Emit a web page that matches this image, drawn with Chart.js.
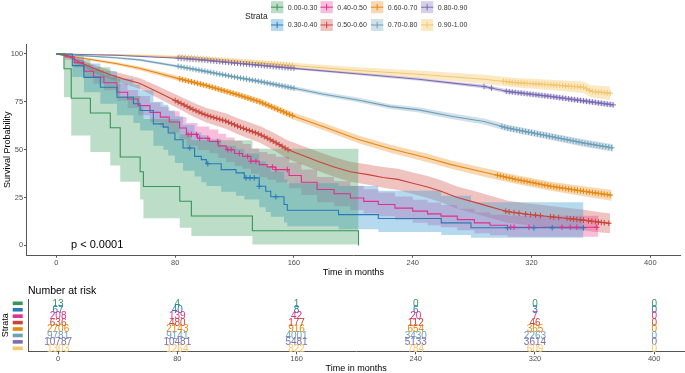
<!DOCTYPE html>
<html>
<head>
<meta charset="utf-8">
<script src="https://cdn.jsdelivr.net/npm/chart.js@4.4.1/dist/chart.umd.min.js"></script>
<style>
  html, body { margin: 0; padding: 0; background: #fff; overflow: hidden; }
  #wrap { position: relative; width: 685px; height: 373px; }
  #kmChart { position: absolute; left: 0; top: 0; }
  #riskChart { position: absolute; left: 0; top: 280px; }
</style>
</head>
<body>
<div id="wrap">
  <canvas id="kmChart" width="685" height="280"></canvas>
  <canvas id="riskChart" width="685" height="95"></canvas>
</div>
<script>
/* ---------- data ---------- */
const strata = ['0.00-0.30', '0.30-0.40', '0.40-0.50', '0.50-0.60', '0.60-0.70', '0.70-0.80', '0.80-0.90', '0.90-1.00'];
const xTicks = [0, 80, 160, 240, 320, 400];
const yTicks = [0, 25, 50, 75, 100];

// 0.00-0.30
const greenTime = [0, 5.1, 10, 22.9, 36.3, 43, 56.4, 58.6, 83.1, 90.9, 132, 203.5];
const greenSurv = [100, 92.3, 76.9, 69.2, 61.5, 46.2, 38.5, 30.8, 23.1, 15.4, 7.7, 0];
const greenLow  = [100, 77.4, 57.4, 48.8, 41.8, 33.2, 24, 14.2, 9.2, 4.9, 0.5, 0];
const greenHigh = [100, 100, 97, 93, 88, 78, 72, 66, 58, 55, 50.5, 50.5];
const greenCensor = [];

// 0.30-0.40
const blueTime = [0, 10.7, 18.5, 29.6, 40.8, 51.9, 56.4, 65.3, 72, 75.3, 79.8, 85.3, 93.1, 97.6, 101, 111, 121, 126.6, 136.6, 141, 144.4, 153.3, 155.5, 190, 216.8, 259.2, 279.2, 355];
const blueSurv = [100, 93.9, 87.8, 82.6, 77.4, 74, 70.5, 63.5, 61.8, 58.7, 55.2, 50.9, 46.5, 44.8, 42.7, 39.6, 37.9, 35.3, 30.9, 28.3, 25.4, 21.4, 18.4, 16.1, 14.1, 11.8, 9.2, 9.2];
const blueLow  = [100, 88, 80, 74, 68, 64, 60, 52, 50, 47, 43, 39, 36, 33, 31, 28, 26, 24, 20, 17.5, 15, 12, 10, 8.5, 7, 5.5, 4, 4];
const blueHigh = [100, 99, 95, 91, 87, 84, 81, 75, 73.5, 70.5, 67.5, 63, 59, 57.5, 55.5, 52, 50.5, 48, 44, 41.5, 38.5, 34.5, 32.5, 31, 28.5, 26, 22.6, 22.6];
const blueCensor = [89.8, 102, 127.7, 130.4, 133.3, 136.6, 147.8, 303.8, 321.6, 333.9, 355];

// 0.40-0.50
const pinkTime = [0, 6, 12, 18.5, 25, 32, 40.8, 48, 55, 63, 70, 76, 83, 87.6, 95, 103, 109, 114.3, 120, 125.4, 131, 136.6, 142, 147.8, 156.7, 165, 175.6, 187, 198, 207, 216.8, 228, 240, 250, 259, 270, 281.5, 292, 303.8, 365];
const pinkSurv = [100, 98.5, 95.5, 91, 88, 85, 80, 76.5, 73, 69.5, 67, 64.5, 61.3, 58, 56, 54.3, 52, 50, 48, 46.5, 44, 42.2, 41, 39.6, 36.5, 33, 29.2, 27, 24.8, 23, 21.4, 19.5, 17.9, 16.5, 15.3, 13.5, 11.8, 10.5, 9.5, 9.5];
const pinkLow  = [100, 97, 93, 87.8, 84.4, 81, 75.6, 71.8, 68, 64.3, 61.6, 58.9, 55.5, 52, 49.9, 48.1, 45.7, 43.6, 41.5, 40, 37.4, 35.6, 34.3, 32.9, 29.8, 26.3, 22.6, 20.5, 18.4, 16.7, 15.2, 13.4, 11.9, 10.6, 9.5, 7.9, 6.4, 5.3, 4.5, 4.5];
const pinkHigh = [100, 100, 98, 94.2, 91.6, 89, 84.4, 81.2, 78, 74.7, 72.4, 70.1, 67.1, 64, 62.1, 60.5, 58.3, 56.4, 54.5, 53, 50.6, 48.8, 47.7, 46.3, 43.2, 39.7, 35.8, 33.5, 31.2, 29.3, 27.6, 25.6, 23.9, 22.4, 21.1, 19.1, 17.2, 16, 15.5, 15.5];
const pinkCensor = [88.7, 90.9, 94.3, 96.5, 102, 108.7, 115.4, 117.7, 123.2, 128.8, 131, 134.4, 145.5, 147.8, 155.5, 306, 308.2, 318.3, 340.5, 346.1, 350.5, 363.9];

// 0.50-0.60
const redTime = [0, 8, 16, 25, 35, 45, 56, 70, 83, 92, 101, 114, 123, 137, 147, 156, 166, 176, 187, 198, 210, 220, 230, 240, 250, 259, 270, 282, 293, 304, 318, 333, 345, 355, 365, 373];
const redSurv = [100, 99, 95.5, 92.5, 89.5, 87, 84.7, 79.5, 74.5, 71, 68, 65, 62, 58, 54, 50, 47, 44, 41, 38.5, 37, 35.5, 34.5, 32.5, 30.5, 28.3, 25, 22.5, 20, 17.6, 16.2, 15, 14, 13.2, 12.2, 11.5];
const redLow  = [100, 98.2, 93.9, 90.5, 87.2, 84.4, 81.9, 76.4, 71.1, 67.4, 64.2, 61, 57.8, 53.6, 49.4, 45.2, 42.1, 39, 35.9, 33.3, 31.7, 30.1, 29, 26.9, 24.8, 22.5, 19.2, 16.7, 14.2, 11.8, 10.5, 9.4, 8.5, 7.8, 6.9, 6.3];
const redHigh = [100, 99.8, 97.1, 94.5, 91.8, 89.6, 87.5, 82.6, 77.9, 74.6, 71.8, 69, 66.2, 62.4, 58.6, 54.8, 51.9, 49, 46.1, 43.7, 42.3, 40.9, 40, 38.1, 36.2, 34.1, 30.8, 28.3, 25.8, 23.4, 21.9, 20.6, 19.5, 18.6, 17.5, 16.7];
const redCensor = [80, 82, 84, 86, 88, 90, 92, 94, 96, 98, 100, 102, 104, 106, 108, 110, 112, 114, 116, 118, 120, 122, 124, 126, 128, 130, 132, 134, 136, 138, 140, 142, 144, 146, 148, 150, 152, 154, 156,
    302.6, 304.9, 308.2, 311.6, 316, 319.3, 322.7, 326, 332.7, 335, 338.3, 343.9, 346.1, 348.3, 350.5, 352.8, 355, 358.4, 360.6, 363, 365.1, 367, 369, 372];

// 0.60-0.70
const orangeTime = [0, 20, 40, 56, 83, 101, 123, 137, 160, 180, 203, 225, 250, 266, 288, 310, 333, 355, 374];
const orangeSurv = [100, 97.5, 95, 92.5, 87, 83.5, 78.5, 75, 67.5, 62, 55.5, 50.5, 45.7, 42.2, 38.2, 34.4, 30.9, 28.3, 26.2];
const orangeLow  = [100, 96.9, 94.2, 91.5, 85.7, 82.1, 77, 73.3, 65.7, 60.1, 53.5, 48.4, 43.5, 40, 35.9, 32.1, 28.5, 25.7, 23.4];
const orangeHigh = [100, 98.1, 95.8, 93.5, 88.3, 84.9, 80, 76.7, 69.3, 63.9, 57.5, 52.6, 47.9, 44.4, 40.5, 36.7, 33.3, 30.9, 29];
const orangeCensor = [83, 85, 87, 89, 91, 93, 95, 97, 99, 101, 103, 105, 107, 109, 111, 113, 115, 117, 119, 121, 123, 125, 127, 129, 131, 133, 135, 137, 139, 141, 143, 145, 147, 149, 151, 153, 155, 157, 159,
    297, 299, 301, 303, 305, 307, 309, 311, 313, 315, 317, 319, 321, 323, 325, 327, 329, 331, 333, 335, 337, 339, 341, 343, 345, 347, 349, 351, 353, 355, 357, 359, 361, 363, 365, 367, 369, 371, 373];

// 0.70-0.80
const steelTime = [0, 20, 40, 56, 83, 100, 120, 137, 160, 180, 203, 225, 244, 266, 288, 304, 333, 355, 375];
const steelSurv = [100, 99, 98, 96.9, 93.4, 91, 88, 85.6, 82.1, 79, 76, 72.5, 70.8, 67.5, 64.7, 61.3, 56.9, 53.5, 50.9];
const steelLow  = [100, 98.7, 97.5, 96.3, 92.7, 90.2, 87.2, 84.7, 81.1, 77.9, 74.8, 71.2, 69.4, 66, 63.1, 59.6, 55.1, 51.6, 48.9];
const steelHigh = [100, 99.3, 98.5, 97.5, 94.1, 91.8, 88.8, 86.5, 83.1, 80.1, 77.2, 73.8, 72.2, 69, 66.3, 63, 58.7, 55.4, 52.9];
const steelCensor = [82, 84, 86, 88, 90, 92, 94, 96, 98, 100, 102, 104, 106, 108, 110, 112, 114, 116, 118, 120, 122, 124, 126, 128, 130, 132, 134, 136, 138, 140, 142, 144, 146, 148, 150, 152, 154, 156, 158, 160,
    300, 302, 304, 306, 308, 310, 312, 314, 316, 318, 320, 322, 324, 326, 328, 330, 332, 334, 336, 338, 340, 342, 344, 346, 348, 350, 352, 354, 356, 358, 360, 362, 364, 366, 368, 370, 372, 374];

// 0.80-0.90
const violetTime = [0, 40, 83, 100, 120, 160, 200, 244, 270, 288, 304, 333, 355, 375];
const violetSurv = [100, 99.3, 97.8, 96.8, 95.3, 92.5, 89.8, 86.8, 84.5, 83, 80.4, 77.8, 75.5, 73.4];
const violetLow  = [100, 99.1, 97.5, 96.4, 94.8, 91.9, 89.1, 86, 83.6, 82, 79.3, 76.6, 74.2, 72];
const violetHigh = [100, 99.5, 98.1, 97.2, 95.8, 93.1, 90.5, 87.6, 85.4, 84, 81.5, 79, 76.8, 74.8];
const violetCensor = [82, 84, 86, 88, 90, 92, 94, 96, 98, 100, 102, 104, 106, 108, 110, 112, 114, 116, 118, 120, 122, 124, 126, 128, 130, 132, 134, 136, 138, 140, 142, 144, 146, 148, 150, 152, 154, 156, 158, 160,
    288, 293, 303, 305, 307, 309, 311, 313, 315, 317, 319, 321, 323, 325, 327, 329, 331, 333, 335, 337, 339, 341, 343, 345, 347, 349, 351, 353, 355, 357, 359, 361, 363, 365, 367, 369, 371, 373, 375];

// 0.90-1.00
const yellowTime = [0, 40, 83, 120, 160, 200, 244, 288, 310, 333, 355, 360, 373];
const yellowSurv = [100, 99.6, 98.5, 96.3, 94, 91.5, 89.4, 86.8, 85, 83.9, 82.6, 80.5, 79.5];
const yellowLow  = [100, 99.2, 97.8, 95.2, 92.6, 89.8, 87.4, 84.5, 82.5, 81.2, 79.6, 77.3, 76];
const yellowHigh = [100, 100, 99.2, 97.4, 95.4, 93.2, 91.4, 89.1, 87.5, 86.6, 85.6, 83.7, 83];
const yellowCensor = [83, 85, 87, 89, 91, 93, 95, 97, 99, 101, 103, 105, 107, 109, 111, 113, 115, 117, 119, 121, 123, 125, 127, 129, 131, 133, 135, 137, 139, 141, 143, 145, 147, 149, 151, 153, 155, 157, 159,
    301, 303, 305, 307, 309, 311, 313, 315, 317, 319, 321, 323, 325, 327, 329, 331, 333, 335, 337, 339, 341, 343, 345, 347, 349, 351, 353, 355, 357, 359, 361, 363, 365, 367, 369, 371, 373];

// number at risk, one row per stratum, columns = riskTimes
const riskTimes = [0, 80, 160, 240, 320, 400];
const riskRows = [
    [13, 4, 1, 0, 0, 0],
    [67, 40, 8, 6, 3, 0],
    [208, 139, 42, 20, 7, 0],
    [636, 480, 177, 112, 46, 0],
    [2706, 2143, 916, 654, 365, 0],
    [9781, 9141, 4001, 3430, 2263, 0],
    [10787, 10481, 5481, 5133, 3614, 0],
    [1303, 1264, 822, 784, 609, 0]
];

/* ---------- styling ---------- */
const palette = ['#35955A', '#2879B8', '#E12F8C', '#C9443A', '#E8870F', '#6E9FB8', '#7B6CB4', '#F5C66A'];
const bandFill = [
    'rgba(58,154,91,0.34)',
    'rgba(70,160,215,0.40)',
    'rgba(231,41,138,0.30)',
    'rgba(201,68,58,0.32)',
    'rgba(232,135,15,0.32)',
    'rgba(110,159,184,0.32)',
    'rgba(123,108,180,0.32)',
    'rgba(245,198,106,0.38)'
];
const axisGrey = '#555555';
const tickGrey = '#4d4d4d';
const family = '"Liberation Sans", Arial, Helvetica, sans-serif';
Chart.defaults.font.family = family;

const curves = [
    { time: greenTime, surv: greenSurv, low: greenLow, high: greenHigh, censor: greenCensor, stepped: true },
    { time: blueTime, surv: blueSurv, low: blueLow, high: blueHigh, censor: blueCensor, stepped: true },
    { time: pinkTime, surv: pinkSurv, low: pinkLow, high: pinkHigh, censor: pinkCensor, stepped: true },
    { time: redTime, surv: redSurv, low: redLow, high: redHigh, censor: redCensor, stepped: false },
    { time: orangeTime, surv: orangeSurv, low: orangeLow, high: orangeHigh, censor: orangeCensor, stepped: false },
    { time: steelTime, surv: steelSurv, low: steelLow, high: steelHigh, censor: steelCensor, stepped: false },
    { time: violetTime, surv: violetSurv, low: violetLow, high: violetHigh, censor: violetCensor, stepped: false },
    { time: yellowTime, surv: yellowSurv, low: yellowLow, high: yellowHigh, censor: yellowCensor, stepped: false }
];

function pts(time, vals) {
    return time.map((t, i) => ({ x: t, y: vals[i] }));
}

// value of a curve at time t (used to sit the censor marks on the line)
function survAt(c, t) {
    let i = 0;
    while (i < c.time.length - 1 && c.time[i + 1] <= t) i++;
    if (c.stepped || i >= c.time.length - 1) return c.surv[i];
    const f = (t - c.time[i]) / (c.time[i + 1] - c.time[i]);
    return c.surv[i] + f * (c.surv[i + 1] - c.surv[i]);
}

const datasets = [];
curves.forEach((c, k) => {
    datasets.push({
        data: pts(c.time, c.high), borderColor: 'transparent', borderWidth: 1,
        pointRadius: 0, fill: false, stepped: c.stepped, order: 3
    });
    datasets.push({
        data: pts(c.time, c.low), borderColor: 'transparent', borderWidth: 1,
        pointRadius: 0, fill: '-1', backgroundColor: bandFill[k], stepped: c.stepped, order: 3
    });
    datasets.push({
        data: pts(c.time, c.surv), borderColor: palette[k], borderWidth: 1.1,
        pointRadius: 0, fill: false, stepped: c.stepped, order: 2
    });
    datasets.push({
        data: c.censor.map(t => ({ x: t, y: survAt(c, t) })), showLine: false,
        pointStyle: 'cross', pointRadius: 2.8, pointBorderColor: palette[k], pointBorderWidth: 1,
        order: 1
    });
});

// --- legend + p value drawn on top of the survival panel ---
const kmDecor = {
    id: 'kmDecor',
    afterDraw(chart) {
        const ctx = chart.ctx;
        ctx.save();
        ctx.fillStyle = '#1a1a1a';
        ctx.font = '8.5px ' + family;
        ctx.textAlign = 'left';
        ctx.textBaseline = 'middle';
        ctx.fillText('Strata', 245, 16.5);

        const colX = [271, 320.5, 371, 421];
        const rowY = [7.2, 25];
        const kw = 12.3, kh = 12;
        strata.forEach((name, k) => {
            const kx = colX[Math.floor(k / 2)];
            const ky = rowY[k % 2];
            ctx.fillStyle = bandFill[k];
            ctx.fillRect(kx, ky - kh / 2, kw, kh);
            ctx.strokeStyle = palette[k];
            ctx.lineWidth = 1;
            ctx.beginPath();
            ctx.moveTo(kx, ky); ctx.lineTo(kx + kw, ky);
            ctx.moveTo(kx + kw / 2, ky - 3.2); ctx.lineTo(kx + kw / 2, ky + 3.2);
            ctx.stroke();
            ctx.fillStyle = '#333333';
            ctx.font = '7px ' + family;
            ctx.fillText(name, kx + kw + 4.5, ky + 0.5);
        });

        ctx.fillStyle = '#000';
        ctx.font = '11px ' + family;
        ctx.fillText('p < 0.0001', 71, 245);
        ctx.restore();
    }
};

new Chart(document.getElementById('kmChart'), {
    type: 'line',
    data: { datasets: datasets },
    options: {
        responsive: false,
        animation: false,
        events: [],
        layout: { padding: { top: 44.4, right: 1, left: 0, bottom: 0 } },
        plugins: {
            legend: { display: false },
            tooltip: { enabled: false },
            filler: { propagate: false, drawTime: 'beforeDatasetsDraw' }
        },
        scales: {
            x: {
                type: 'linear', min: -20, max: 420,
                afterBuildTicks: s => { s.ticks = xTicks.map(v => ({ value: v })); },
                afterFit: s => { s.height = 25; },
                grid: { display: true, drawOnChartArea: false, drawTicks: true, tickLength: 2.7, color: axisGrey },
                border: { display: true, color: axisGrey, width: 1 },
                ticks: { font: { size: 7.5 }, color: tickGrey, padding: 0.8, maxRotation: 0, autoSkip: false },
                title: { display: true, text: 'Time in months', font: { size: 9 }, color: '#000', padding: { top: 0, bottom: 1.9 } }
            },
            y: {
                type: 'linear', min: -5, max: 105,
                afterBuildTicks: s => { s.ticks = yTicks.map(v => ({ value: v })); },
                afterFit: s => { s.width = 26.7; },
                grid: { display: true, drawOnChartArea: false, drawTicks: true, tickLength: 2.7, color: axisGrey },
                border: { display: true, color: axisGrey, width: 1 },
                ticks: { font: { size: 7.5 }, color: tickGrey, padding: 0.8 },
                title: { display: true, text: 'Survival Probability', font: { size: 9 }, color: '#000', padding: { top: 2.5, bottom: 0 } }
            }
        }
    },
    plugins: [kmDecor]
});

// --- risk table ---
const riskDecor = {
    id: 'riskDecor',
    afterDraw(chart) {
        const { ctx, scales: { x, y } } = chart;
        ctx.save();
        ctx.textAlign = 'center';
        ctx.textBaseline = 'middle';
        ctx.font = '10px ' + family;
        riskRows.forEach((row, r) => {
            ctx.fillStyle = palette[r];
            row.forEach((n, i) => {
                ctx.fillText(String(n), x.getPixelForValue(riskTimes[i]), y.getPixelForValue(r) + 0.5);
            });
        });
        palette.forEach((col, r) => {
            ctx.fillStyle = col;
            ctx.fillRect(12.7, y.getPixelForValue(r) - 1.8, 10, 3.6);
        });
        ctx.fillStyle = '#000';
        ctx.textAlign = 'left';
        ctx.font = '10.5px ' + family;
        ctx.fillText('Number at risk', 28, 10.7);
        ctx.restore();
    }
};

new Chart(document.getElementById('riskChart'), {
    type: 'scatter',
    data: { datasets: [{ data: [] }] },
    options: {
        responsive: false,
        animation: false,
        events: [],
        layout: { padding: { top: 19, right: 1, left: 0, bottom: 0 } },
        plugins: { legend: { display: false }, tooltip: { enabled: false } },
        scales: {
            x: {
                type: 'linear', min: -20, max: 420,
                afterBuildTicks: s => { s.ticks = xTicks.map(v => ({ value: v })); },
                afterFit: s => { s.height = 23.3; },
                grid: { display: true, drawOnChartArea: false, drawTicks: true, tickLength: 2.7, color: axisGrey },
                border: { display: true, color: axisGrey, width: 1 },
                ticks: { font: { size: 7.5 }, color: tickGrey, padding: 0.4, maxRotation: 0, autoSkip: false },
                title: { display: true, text: 'Time in months', font: { size: 9 }, color: '#000', padding: { top: 0, bottom: 0.6 } }
            },
            y: {
                type: 'linear', min: -0.67, max: 7.53, reverse: true,
                afterFit: s => { s.width = 28.3; },
                grid: { display: false },
                border: { display: true, color: axisGrey, width: 1 },
                ticks: { display: false },
                title: { display: true, text: 'Strata', font: { size: 9, lineHeight: 1.2 }, color: '#000', padding: { top: 0, bottom: 0 } }
            }
        }
    },
    plugins: [riskDecor]
});
</script>
</body>
</html>
